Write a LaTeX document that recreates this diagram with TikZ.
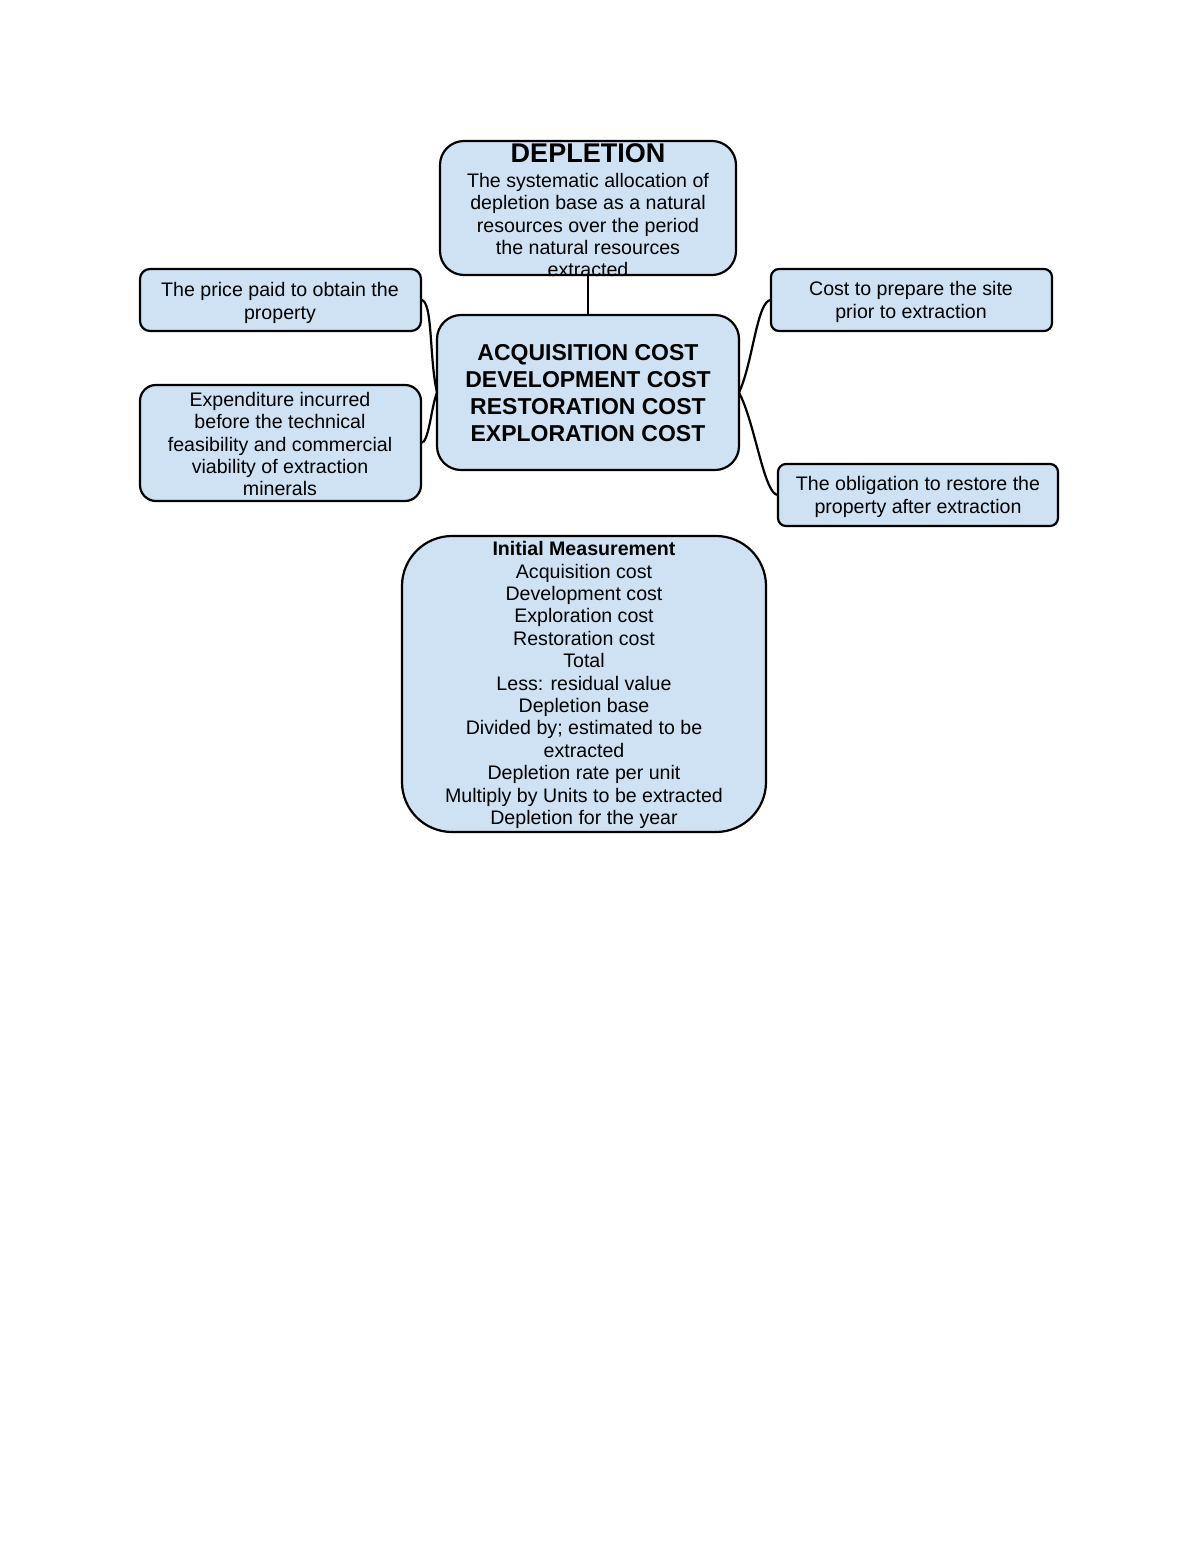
\documentclass[tikz,border=0pt]{standalone}
\usepackage{fontspec}
\setmainfont{Liberation Sans}
\definecolor{boxblue}{RGB}{207,226,243}
\tikzset{
  box/.style={draw=black, line width=1.1pt, fill=boxblue, inner sep=0pt, outer sep=0pt},
  txt/.style={inner sep=0pt, align=center, font=\fontsize{9.8}{11.2}\selectfont},
  bigtxt/.style={inner sep=0pt, align=center, font=\bfseries\fontsize{11.5}{13.6}\selectfont},
  conn/.style={draw=black, line width=1.1pt},
}
\begin{document}
\begin{tikzpicture}[x=0.5pt,y=-0.5pt]
\useasboundingbox[fill=white] (0,0) rectangle (1200,1553);
% boxes
\node[box, rounded corners=12pt, minimum width=148pt, minimum height=67pt] (dep) at (588,208) {};
\node[box, rounded corners=12pt, minimum width=151pt, minimum height=77.5pt] (acq) at (588,392.5) {};
\node[box, rounded corners=5pt, minimum width=140.5pt, minimum height=31pt] (price) at (280.5,300) {};
\node[box, rounded corners=8pt, minimum width=140.5pt, minimum height=58pt] (exp) at (280.5,443) {};
\node[box, rounded corners=4pt, minimum width=140.5pt, minimum height=31pt] (cost) at (911.5,300) {};
\node[box, rounded corners=4pt, minimum width=140pt, minimum height=31pt] (obl) at (918,495) {};
\node[box, rounded corners=25pt, minimum width=182pt, minimum height=148pt] (init) at (584,684) {};
% connectors
\draw[conn] (dep.south) -- (acq.north);
\draw[conn] (acq.west) .. controls +(-8,-35) and +(12,0) .. (price.east);
\draw[conn] (acq.west) .. controls +(-6,15) and +(8,0) .. (exp.east);
\draw[conn] (acq.east) .. controls +(14,-30) and +(-14,0) .. (cost.west);
\draw[conn] (acq.east) .. controls +(16,30) and +(-14,0) .. (obl.west);
% texts
\node[inner sep=0pt, font=\bfseries\fontsize{13.5}{14}\selectfont] (deptitle) at (588,153) {DEPLETION};
\node[txt] (deptext) at (588,225) {The systematic allocation of\\depletion base as a natural\\resources over the period\\the natural resources\\extracted};
\node[bigtxt] (acqtext) at (588,393) {ACQUISITION COST\\DEVELOPMENT COST\\RESTORATION COST\\EXPLORATION COST};
\node[txt] (pricetext) at (280,303) {The price paid to obtain the\\property};
\node[txt] (exptext) at (280,444) {Expenditure incurred\\before the technical\\feasibility and commercial\\viability of extraction\\minerals};
\node[txt] (costtext) at (911,302) {Cost to prepare the site\\prior to extraction};
\node[txt] (obltext) at (918,497) {The obligation to restore the\\property after extraction};
\node[txt] (inittext) at (584,685) {{\bfseries Initial Measurement}\\Acquisition cost\\Development cost\\Exploration cost\\Restoration cost\\Total\\Less: residual value\\Depletion base\\Divided by; estimated to be\\extracted\\Depletion rate per unit\\Multiply by Units to be extracted\\Depletion for the year};
\end{tikzpicture}
\end{document}
